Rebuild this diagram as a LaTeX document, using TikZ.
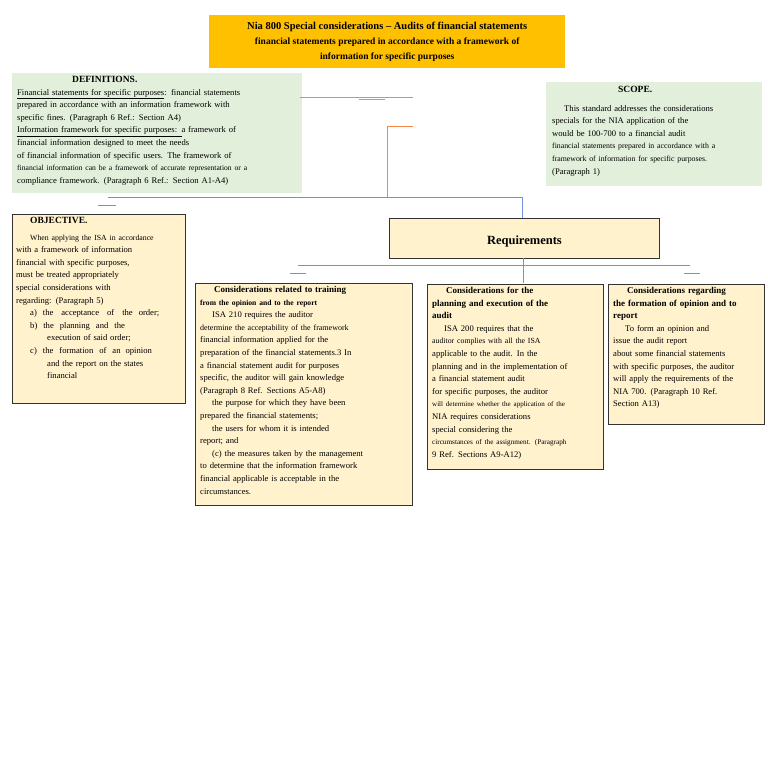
\documentclass[tikz,border=0pt]{standalone}
\usepackage{fontspec}
\setmainfont{Liberation Serif}
\definecolor{ttl}{HTML}{FFC000}
\definecolor{grn}{HTML}{E2EFDA}
\definecolor{crm}{HTML}{FFF2CC}
\definecolor{bl}{HTML}{6F93D6}
\definecolor{org}{HTML}{F4884A}
\begin{document}
\begin{tikzpicture}[x=1pt,y=-1pt,
  gbox/.style={fill=grn,draw=none,anchor=north west,inner sep=0},
  cbox/.style={fill=crm,draw=black!80,line width=0.8pt,anchor=north west,inner sep=0},
  txt/.style={anchor=north west,align=left,inner sep=0,font=\fontsize{8.6}{12.6}\selectfont},
  bline/.style={bl,line width=0.9pt},
  oline/.style={org,line width=0.9pt}]
\useasboundingbox (0,0) rectangle (768,762);
\fill[white] (0,0) rectangle (768,762);
% title
\node[fill=ttl,anchor=north west,minimum width=356pt,minimum height=53pt,inner sep=0] (title) at (209,15) {};
\node[align=center,font=\bfseries\fontsize{9.5}{15}\selectfont] at (title.center) {{\fontsize{10.5}{15}\selectfont Nia 800 Special considerations -- Audits of financial statements}\\financial statements prepared in accordance with a framework of\\information for specific purposes};
% definitions
\node[gbox,minimum width=290pt,minimum height=120pt] (def) at (12,73) {};
\node[txt,text width=285pt] at (17,76) {\hspace*{55pt}\textbf{\fontsize{9.5}{12}\selectfont DEFINITIONS.}\\
\underline{Financial statements for specific purposes}: financial statements\\
prepared in accordance with an information framework with\\
specific fines. (Paragraph 6 Ref.: Section A4)\\
\underline{Information framework for specific purposes: }a framework of\\
financial information designed to meet the needs\\
of financial information of specific users. The framework of\\
{\fontsize{7.6}{12.6}\selectfont financial information can be a framework of accurate representation or a}\\
compliance framework. (Paragraph 6 Ref.: Section A1-A4)};
% scope
\node[gbox,minimum width=216pt,minimum height=104pt] (scope) at (546,82) {};
\node[txt,text width=212pt] at (552,86) {\hspace*{66pt}\textbf{\fontsize{9.5}{12}\selectfont SCOPE.}\\[6pt]
\hspace*{12pt}This standard addresses the considerations\\
specials for the NIA application of the\\
would be 100-700 to a financial audit\\
{\fontsize{7.8}{12.6}\selectfont financial statements prepared in accordance with a}\\
{\fontsize{7.8}{12.6}\selectfont framework of information for specific purposes.}\\
(Paragraph 1)};
% objective
\node[cbox,minimum width=173pt,minimum height=189pt] (obj) at (12,214) {};
\node[txt,text width=168pt] at (16,217) {\hspace*{14pt}\textbf{\fontsize{9.5}{12}\selectfont OBJECTIVE.}\\[4pt]
{\fontsize{7.8}{12.6}\selectfont\hspace*{14pt}When applying the ISA in accordance}\\
with a framework of information\\
financial with specific purposes,\\
must be treated appropriately\\
special considerations with\\
regarding: (Paragraph 5)\\
\hspace*{14pt}a)\hspace{6pt}the\hspace{8pt}acceptance\hspace{8pt}of\hspace{8pt}the\hspace{6pt}order;\\
\hspace*{14pt}b)\hspace{6pt}the\hspace{6pt}planning\hspace{6pt}and\hspace{6pt}the\\
\hspace*{31pt}execution of said order;\\
\hspace*{14pt}c)\hspace{6pt}the\hspace{6pt}formation\hspace{6pt}of\hspace{6pt}an\hspace{5pt}opinion\\
\hspace*{31pt}and the report on the states\\
\hspace*{31pt}financial};
% requirements
\node[cbox,minimum width=270pt,minimum height=40pt] (req) at (389,218) {};
\node[font=\bfseries\fontsize{12.5}{15}\selectfont] at ([yshift=-3pt]req.center) {Requirements};
% box1
\node[cbox,minimum width=217pt,minimum height=222pt] (b1) at (195,283) {};
\node[txt,text width=213pt] at (200,286) {\hspace*{14pt}\textbf{\fontsize{9}{12}\selectfont Considerations related to training}\\
\textbf{\fontsize{7.6}{10}\selectfont from the opinion and to the report}\\
\hspace*{12pt}ISA 210 requires the auditor\\
{\fontsize{8}{12.6}\selectfont determine the acceptability of the framework}\\
financial information applied for the\\
preparation of the financial statements.3 In\\
a financial statement audit for purposes\\
specific, the auditor will gain knowledge\\
(Paragraph 8 Ref. Sections A5-A8)\\
\hspace*{12pt}the purpose for which they have been\\
prepared the financial statements;\\
\hspace*{12pt}the users for whom it is intended\\
report; and\\
\hspace*{12pt}(c) the measures taken by the management\\
to determine that the information framework\\
financial applicable is acceptable in the\\
circumstances.};
% box2
\node[cbox,minimum width=176pt,minimum height=185pt] (b2) at (427,284) {};
\node[txt,text width=174pt] at (432,287) {\hspace*{14pt}\textbf{\fontsize{9}{12.6}\selectfont Considerations for the}\\
\textbf{\fontsize{9}{12.6}\selectfont planning and execution of the}\\
\textbf{\fontsize{9}{12.6}\selectfont audit}\\
\hspace*{12pt}ISA 200 requires that the\\
{\fontsize{7.8}{12.6}\selectfont auditor complies with all the ISA}\\
applicable to the audit. In the\\
planning and in the implementation of\\
a financial statement audit\\
for specific purposes, the auditor\\
{\fontsize{7}{12.6}\selectfont will determine whether the application of the}\\
NIA requires considerations\\
special considering the\\
{\fontsize{7.2}{12.6}\selectfont circumstances of the assignment. (Paragraph}\\
9 Ref. Sections A9-A12)};
% box3
\node[cbox,minimum width=156pt,minimum height=140pt] (b3) at (608,284) {};
\node[txt,text width=154pt] at (613,287) {\hspace*{14pt}\textbf{\fontsize{9}{12.6}\selectfont Considerations regarding}\\
\textbf{\fontsize{9}{12.6}\selectfont the formation of opinion and to}\\
\textbf{\fontsize{9}{12.6}\selectfont report}\\
\hspace*{12pt}To form an opinion and\\
issue the audit report\\
about some financial statements\\
with specific purposes, the auditor\\
will apply the requirements of the\\
NIA 700. (Paragraph 10 Ref.\\
Section A13)};
% connectors
\coordinate (t1) at (108,197);
\coordinate (t2) at (522,197);
\draw[bline] (t1) -- (t2) -- (req.north -| t2);
\draw[bline] (98,205) -- (116,205);
\coordinate (h1) at (298,265);
\coordinate (h2) at (690,265);
\draw[bline] (h1) -- (h2);
\draw[bline] (req.south -| b2.north) ++(96,0) coordinate (rq);
\draw[bline] (523,258) -- (523,283);
\draw[bline] (290,273) -- (306,273);
\draw[bline] (684,273) -- (700,273);
\draw[oline] (300,97) -- (413,97);
\draw[oline] (359,99) -- (385,99);
\draw[oline] (387,126) -- (413,126);
\draw[oline] (387,126) -- (387,197);
\end{tikzpicture}
\end{document}
